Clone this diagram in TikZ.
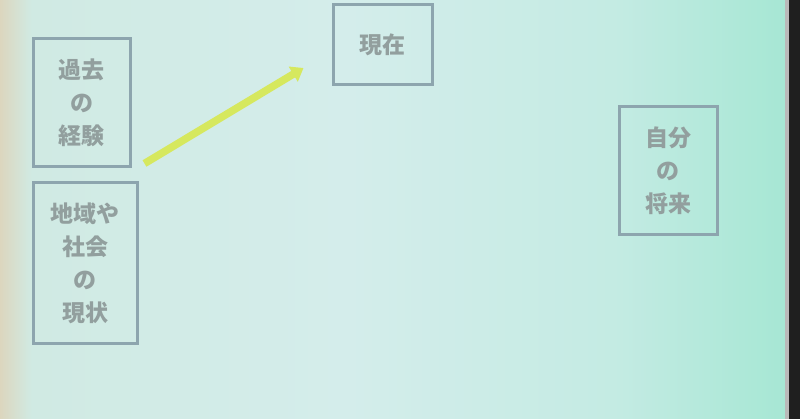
\documentclass[tikz,border=0pt]{standalone}
\usepackage{fontspec}
\usepackage{tikz}
\usetikzlibrary{positioning}
\usetikzlibrary{arrows.meta}
\newfontfamily\jpfont{Noto Sans CJK JP}
\definecolor{boxline}{HTML}{8DA5AE}
\definecolor{boxtext}{HTML}{929F9E}
\definecolor{arrowgreen}{HTML}{D6E85E}
\definecolor{edgebeige}{HTML}{DCD6BE}
\definecolor{slideleft}{HTML}{D0EAE3}
\definecolor{slidemid}{HTML}{D4EDEB}
\definecolor{slideright}{HTML}{A6E7D4}
% stops between 25bp and 75bp cover the path
\pgfdeclarehorizontalshading{slide}{100bp}{color(0bp)=(edgebeige); color(25bp)=(edgebeige);
  color(27bp)=(slideleft); color(47bp)=(slidemid); color(64bp)=(slidemid!65!slideright);
  color(75bp)=(slideright); color(100bp)=(slideright)}
\tikzset{% boxes of the slide
        topic/.style={draw=boxline, line width=3pt, text=boxtext,
                      font=\jpfont\bfseries\fontsize{23}{33}\selectfont, align=center,
                      inner sep=0pt},
        flow/.style={arrowgreen, line width=7.5pt,
                     -{Triangle[length=12pt,width=17pt]}}
        }

\begin{document}
\begin{tikzpicture}[x=1pt,y=-1pt]
\useasboundingbox (0,0) rectangle (800,419);
% slide background
\shade[shading=slide] (0,0) rectangle (788,419);
\fill[gray!55] (785,0) rectangle (789,419);
\fill[black!88] (789,0) rectangle (800,419);

\node[topic, minimum width=97, minimum height=128] (past) at (81.5,103) {過去\\の\\経験};
\node[topic, minimum width=104, minimum height=161] (region) at (85,263.5) {地域や\\社会\\の\\現状};
\node[topic, minimum width=99, minimum height=80] (now) at (382.5,45) {現在};
\node[topic, minimum width=98, minimum height=128] (future) at (668,171) {自分\\の\\将来};

\draw[flow] ([shift={(13,-5)}]past.south east) -- ([shift={(-28,23)}]now.west);
\end{tikzpicture}
\end{document}
